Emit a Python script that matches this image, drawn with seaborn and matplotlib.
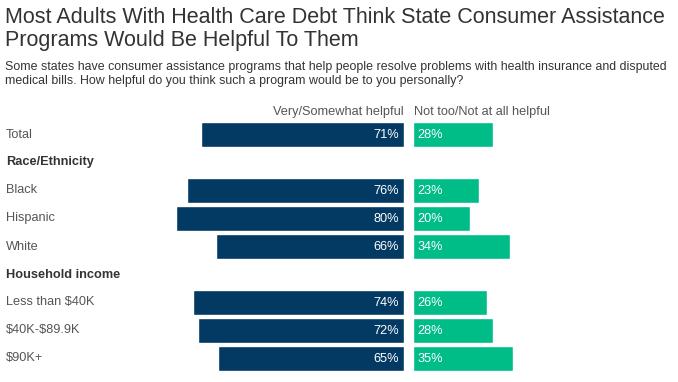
import matplotlib
matplotlib.use("Agg")
import matplotlib.pyplot as plt
import seaborn as sns
import pandas as pd

# rows as they appear top to bottom (None values = group header rows)
row_labels = ["Total", "Race/Ethnicity", "Black", "Hispanic", "White",
              "Household income", "Less than $40K", "$40K-$89.9K", "$90K+"]
header_rows = ["Race/Ethnicity", "Household income"]
helpful = [71, None, 76, 80, 66, None, 74, 72, 65]
not_helpful = [28, None, 23, 20, 34, None, 26, 28, 35]

title = "Most Adults With Health Care Debt Think State Consumer Assistance\nPrograms Would Be Helpful To Them"
subtitle = ("Some states have consumer assistance programs that help people resolve problems with health insurance and disputed\n"
            "medical bills. How helpful do you think such a program would be to you personally?")
col_left = "Very/Somewhat helpful"
col_right = "Not too/Not at all helpful"

NAVY = "#023a63"
GREEN = "#00bd87"

W, H = 678, 382
sns.set_style("white")
plt.rcParams["font.family"] = ["Liberation Sans", "DejaVu Sans"]

df = pd.DataFrame({"row": row_labels, "helpful": helpful, "not_helpful": not_helpful})

fig = plt.figure(figsize=(W / 100, H / 100), dpi=100)

def px_axes(x0, x1, y0, y1):
    # pixel box (top-left origin) -> figure fraction axes
    return fig.add_axes([x0 / W, 1 - y1 / H, (x1 - x0) / W, (y1 - y0) / H])

scale = 2.855  # px per percent
y_top, y_bot = 120.5, 372.5
ax_l = px_axes(404 - 100 * scale, 404, y_top, y_bot)
ax_r = px_axes(413, W, y_top, y_bot)

sns.barplot(data=df, x="helpful", y="row", orient="h", color=NAVY,
            width=0.86, ax=ax_l, saturation=1)
sns.barplot(data=df, x="not_helpful", y="row", orient="h", color=GREEN,
            width=0.86, ax=ax_r, saturation=1)

ax_l.set_xlim(100, 0)
ax_r.set_xlim(0, (W - 413) / scale)
for ax in (ax_l, ax_r):
    ax.set_ylim(len(row_labels) - 0.5, -0.5)
    ax.axis("off")

for i, (a, b) in enumerate(zip(helpful, not_helpful)):
    if a is None:
        continue
    ax_l.text(1.7, i, f"{a}%", color="white", ha="right", va="center", fontsize=9.2)
    ax_r.text(1.7, i, f"{b}%", color="white", ha="left", va="center", fontsize=9.2)

# row labels
for i, lab in enumerate(row_labels):
    ypx = y_top + 14 + 28 * i
    if lab in header_rows:
        fig.text(6 / W, 1 - ypx / H, lab, fontsize=9.2, fontweight="bold",
                 color="#333333", va="center", ha="left", parse_math=False)
    else:
        fig.text(6 / W, 1 - ypx / H, lab, fontsize=9.2, color="#555555",
                 va="center", ha="left", parse_math=False)

fig.text(404 / W, 1 - 112 / H, col_left, fontsize=9.2, color="#555555", ha="right", va="center")
fig.text(414 / W, 1 - 112 / H, col_right, fontsize=9.2, color="#555555", ha="left", va="center")

fig.text(5 / W, 1 - 7 / H, title, fontsize=15.5, color="#333333", ha="left", va="top",
         linespacing=1.12)
fig.text(5 / W, 1 - 61 / H, subtitle, fontsize=8.9, color="#333333", ha="left", va="top",
         linespacing=1.2)

fig.savefig("out.png", dpi=100)
